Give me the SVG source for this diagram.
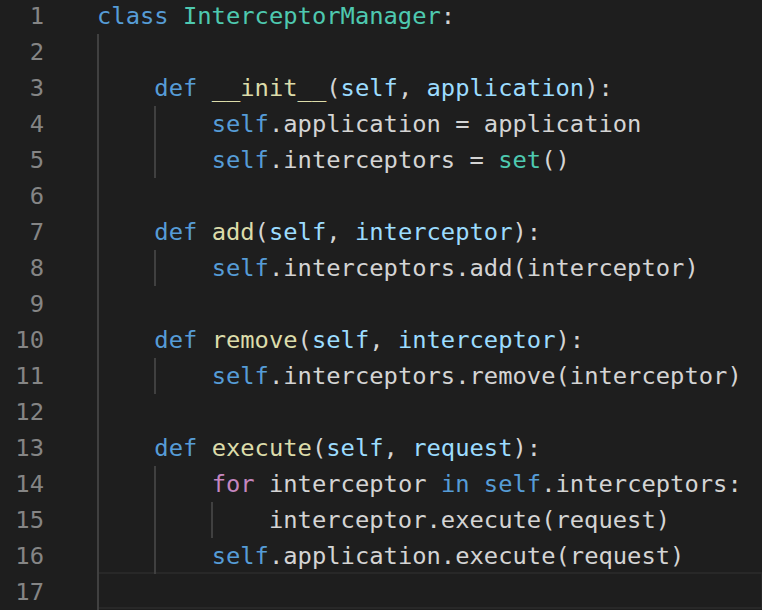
<svg xmlns="http://www.w3.org/2000/svg" width="762" height="610" viewBox="0 0 762 610">
<style>
text{font-family:"DejaVu Sans Mono",monospace;font-size:23.8px;fill:#d4d4d4;white-space:pre}
.n{fill:#858585;text-anchor:end}
.k{fill:#569cd6}.c{fill:#4ec9b0}.f{fill:#dcdcaa}.p{fill:#9cdcfe}.r{fill:#c586c0}
.g{stroke:#404040;stroke-width:2}
</style>
<rect width="762" height="610" fill="#1e1e1e"/>
<rect x="98" y="573" width="664" height="35" fill="none" stroke="#282828" stroke-width="2"/>
<g id="guides">
<line class="g" x1="98" y1="34" x2="98" y2="610"/>
<line class="g" x1="155" y1="106" x2="155" y2="178"/>
<line class="g" x1="155" y1="250" x2="155" y2="286"/>
<line class="g" x1="155" y1="358" x2="155" y2="394"/>
<line class="g" x1="155" y1="466" x2="155" y2="574"/>
<line class="g" x1="212" y1="502" x2="212" y2="538"/>
</g>
<g id="nums">
<text class="n" x="44" y="24">1</text><text class="n" x="44" y="60">2</text><text class="n" x="44" y="96">3</text>
<text class="n" x="44" y="132">4</text><text class="n" x="44" y="168">5</text><text class="n" x="44" y="204">6</text>
<text class="n" x="44" y="240">7</text><text class="n" x="44" y="276">8</text><text class="n" x="44" y="312">9</text>
<text class="n" x="44" y="348">10</text><text class="n" x="44" y="384">11</text><text class="n" x="44" y="420">12</text>
<text class="n" x="44" y="456">13</text><text class="n" x="44" y="492">14</text><text class="n" x="44" y="528">15</text>
<text class="n" x="44" y="564">16</text><text class="n" x="44" y="600">17</text>
</g>
<g id="code">
<text x="97" y="24"><tspan class="k">class</tspan> <tspan class="c">InterceptorManager</tspan>:</text>
<text x="97" y="96">    <tspan class="k">def</tspan> <tspan class="f">__init__</tspan>(<tspan class="p">self</tspan>, <tspan class="p">application</tspan>):</text>
<text x="97" y="132">        <tspan class="k">self</tspan>.application = application</text>
<text x="97" y="168">        <tspan class="k">self</tspan>.interceptors = <tspan class="c">set</tspan>()</text>
<text x="97" y="240">    <tspan class="k">def</tspan> <tspan class="f">add</tspan>(<tspan class="p">self</tspan>, <tspan class="p">interceptor</tspan>):</text>
<text x="97" y="276">        <tspan class="k">self</tspan>.interceptors.add(interceptor)</text>
<text x="97" y="348">    <tspan class="k">def</tspan> <tspan class="f">remove</tspan>(<tspan class="p">self</tspan>, <tspan class="p">interceptor</tspan>):</text>
<text x="97" y="384">        <tspan class="k">self</tspan>.interceptors.remove(interceptor)</text>
<text x="97" y="456">    <tspan class="k">def</tspan> <tspan class="f">execute</tspan>(<tspan class="p">self</tspan>, <tspan class="p">request</tspan>):</text>
<text x="97" y="492">        <tspan class="r">for</tspan> interceptor <tspan class="k">in</tspan> <tspan class="k">self</tspan>.interceptors:</text>
<text x="97" y="528">            interceptor.execute(request)</text>
<text x="97" y="564">        <tspan class="k">self</tspan>.application.execute(request)</text>
</g>
</svg>
